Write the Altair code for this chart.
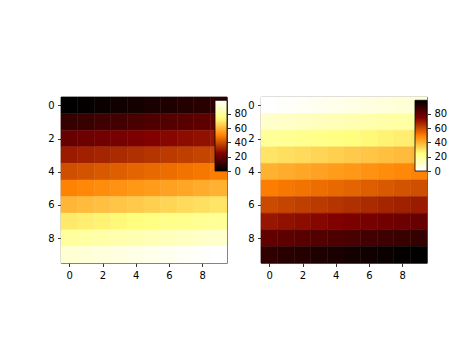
import altair as alt
import pandas as pd

# 10 x 10 image values (row index top->bottom, column index left->right)
values = [
    [0, 1, 2, 3, 4, 5, 6, 7, 8, 9],
    [10, 11, 12, 13, 14, 15, 16, 17, 18, 19],
    [20, 21, 22, 23, 24, 25, 26, 27, 28, 29],
    [30, 31, 32, 33, 34, 35, 36, 37, 38, 39],
    [40, 41, 42, 43, 44, 45, 46, 47, 48, 49],
    [50, 51, 52, 53, 54, 55, 56, 57, 58, 59],
    [60, 61, 62, 63, 64, 65, 66, 67, 68, 69],
    [70, 71, 72, 73, 74, 75, 76, 77, 78, 79],
    [80, 81, 82, 83, 84, 85, 86, 87, 88, 89],
    [90, 91, 92, 93, 94, 95, 96, 97, 98, 99],
]
row_index = list(range(10))
col_index = list(range(10))
tick_values = [0, 2, 4, 6, 8]
cbar_ticks = [0, 20, 40, 60, 80]
cbar_limits = [0, 99]

# afmhot colormap anchor points (piecewise linear in RGB)
afmhot_stops = [0, 24.75, 49.5, 74.25, 99]
afmhot_colors = ["#000000", "#800000", "#ff8000", "#ffff80", "#ffffff"]
afmhot_r_colors = list(reversed(afmhot_colors))

records = [{"row": r, "col": c, "v": values[r][c]} for r in row_index for c in col_index]
df = pd.DataFrame(records)
cb = pd.DataFrame({"lo": [cbar_limits[0]], "hi": [cbar_limits[1]]})

W = 166
H = 166
CB_X0, CB_X1 = 154, 166
CB_Y_BOTTOM, CB_Y_TOP = 74, 3.3


def panel(colors):
    cscale = alt.Scale(domain=afmhot_stops, range=colors, interpolate="rgb")
    heat = (
        alt.Chart(df)
        .transform_calculate(
            x0="datum.col - 0.5", x1="datum.col + 0.5",
            y0="datum.row - 0.5", y1="datum.row + 0.5",
        )
        .mark_rect(strokeWidth=0.5)
        .encode(
            x=alt.X("x0:Q", scale=alt.Scale(domain=[-0.5, 9.5], nice=False, zero=False),
                    axis=alt.Axis(values=tick_values, title=None, format="d")),
            x2="x1:Q",
            y=alt.Y("y0:Q", scale=alt.Scale(domain=[-0.5, 9.5], reverse=True, nice=False, zero=False),
                    axis=alt.Axis(values=tick_values, title=None, format="d")),
            y2="y1:Q",
            color=alt.Color("v:Q", scale=cscale, legend=None),
            stroke=alt.Stroke("v:Q", scale=cscale, legend=None),
        )
    )
    grad = alt.LinearGradient(
        gradient="linear", x1=0, y1=1, x2=0, y2=0,
        stops=[alt.GradientStop(offset=o / cbar_limits[1], color=c) for o, c in zip(afmhot_stops, colors)],
    )
    cbar = (
        alt.Chart(cb)
        .mark_rect(fill=grad, stroke="black", strokeWidth=0.8)
        .encode(
            x=alt.value(CB_X0), x2=alt.value(CB_X1),
            y=alt.Y("lo:Q",
                    scale=alt.Scale(domain=cbar_limits, range=[CB_Y_BOTTOM, CB_Y_TOP], nice=False, zero=False),
                    axis=alt.Axis(orient="right", values=cbar_ticks, title=None, format="d")),
            y2="hi:Q",
        )
    )
    return alt.layer(heat, cbar).resolve_scale(y="independent").properties(width=W, height=H)


chart = (
    alt.hconcat(panel(afmhot_colors), panel(afmhot_r_colors), spacing=34, bounds="flush")
    .resolve_scale(color="independent", stroke="independent")
    .properties(padding={"left": 47, "top": 96, "right": 5, "bottom": 5})
    .configure_view(stroke="black", strokeWidth=0.8)
    .configure_axis(
        labelFont="DejaVu Sans", labelFontSize=10, labelColor="black",
        tickColor="black", tickSize=3.5, tickWidth=0.8, labelPadding=3.5,
        domain=False, grid=False,
    )
)

chart.save("out.html", embed_options={"renderer": "svg", "actions": False})
